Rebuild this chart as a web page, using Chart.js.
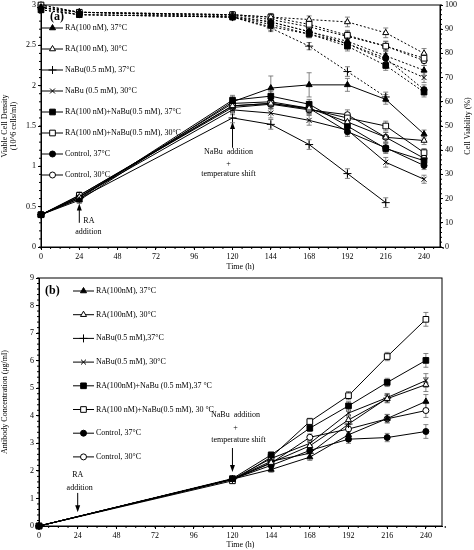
<!DOCTYPE html>
<html>
<head>
<meta charset="utf-8">
<script src="https://cdn.jsdelivr.net/npm/chart.js@4.4.1/dist/chart.umd.min.js"></script>
<style>
html, body { margin: 0; padding: 0; background: #fff; }
canvas { display: block; }
</style>
</head>
<body>
<canvas id="cellChart" width="474" height="272"></canvas>
<canvas id="abChart" width="474" height="278"></canvas>
<script>
'use strict';

// sampling times (h)
var timeA = [0, 24, 120, 144, 168, 192, 216, 240];
var timeB = [0, 120, 144, 168, 192, 216, 240];
var timeTicks = [0, 24, 48, 72, 96, 120, 144, 168, 192, 216, 240];

var labelsA = ['RA(100 nM), 37\u00b0C', 'RA(100 nM), 30\u00b0C', 'NaBu(0.5 mM), 37\u00b0C', 'NaBu (0.5 mM), 30\u00b0C',
    'RA(100 nM)+NaBu(0.5 mM), 37\u00b0C', 'RA(100 nM)+NaBu(0.5 mM), 30\u00b0C', 'Control, 37\u00b0C', 'Control, 30\u00b0C'];
var labelsB = ['RA(100nM), 37\u00b0C', 'RA(100nM), 30\u00b0C', 'NaBu(0.5 mM),37\u00b0C', 'NaBu(0.5 mM), 30\u00b0C',
    'RA(100nM)+NaBu (0.5 mM),37 \u00b0C', 'RA(100 nM)+NaBu(0.5 mM), 30 \u00b0C', 'Control, 37\u00b0C', 'Control, 30\u00b0C'];

// viable cell density (10^6 cells/ml)
var vcdRA37 = [0.4, 0.58, 1.80, 1.97, 2.01, 2.01, 1.83, 1.40];
var vcdRA30 = [0.4, 0.62, 1.75, 1.78, 1.72, 1.55, 1.36, 1.32];
var vcdNaBu37 = [0.4, 0.60, 1.60, 1.52, 1.27, 0.91, 0.55, null];
var vcdNaBu30 = [0.4, 0.62, 1.70, 1.66, 1.57, 1.45, 1.05, 0.84];
var vcdMix37 = [0.4, 0.60, 1.82, 1.87, 1.77, 1.50, 1.22, 1.07];
var vcdMix30 = [0.4, 0.64, 1.75, 1.78, 1.71, 1.60, 1.50, 1.17];
var vcdCtl37 = [0.4, 0.62, 1.78, 1.80, 1.72, 1.43, 1.23, 1.01];
var vcdCtl30 = [0.4, 0.64, 1.73, 1.77, 1.70, 1.64, 1.36, 1.10];
var vcdErr = [0.01, 0.04, 0.06, 0.06, 0.06, 0.06, 0.06, 0.05];
var vcdErrRA37 = [0.01, 0.04, 0.06, 0.15, 0.15, 0.08, 0.06, 0.05];

// cell viability (%)
var viaRA37 = [99, 97, 95.5, 93, 89, 85, 79, 73];
var viaRA30 = [99, 97, 96, 95, 94, 93, 88.5, 80];
var viaNaBu37 = [99, 97, 95, 90.5, 83, 72.5, 62, null];
var viaNaBu30 = [98, 96, 95, 91, 88, 84, 77, 70];
var viaMix37 = [98, 96, 95, 92, 88, 83, 75, 64];
var viaMix30 = [100, 97, 96, 95, 92, 87.5, 83, 78];
var viaCtl37 = [99, 96, 95, 93, 89, 84, 78, 65];
var viaCtl30 = [100, 97, 96, 94, 91, 87, 83, 77];
var viaErr = [1, 1, 1, 1.5, 1.5, 2, 2, 2];

// antibody concentration (ug/ml)
var abRA37 = [0, 1.70, 2.05, 2.50, 3.31, 3.90, 4.52];
var abRA30 = [0, 1.68, 2.30, 2.91, 3.85, 4.62, 5.13];
var abNaBu37 = [0, 1.70, 2.35, 2.64, 3.70, 4.64, null];
var abNaBu30 = [0, 1.70, 2.45, 3.00, 4.10, 4.66, 5.28];
var abMix37 = [0, 1.72, 2.58, 3.55, 4.36, 5.21, 6.01];
var abMix30 = [0, 1.64, 2.50, 3.79, 4.73, 6.15, 7.50];
var abCtl37 = [0, 1.70, 2.20, 2.74, 3.15, 3.21, 3.43];
var abCtl30 = [0, 1.70, 2.28, 3.22, 3.52, 3.89, 4.19];
var abErr = [0, 0.05, 0.1, 0.12, 0.15, 0.15, 0.25];

var serif = 'Liberation Serif, "Times New Roman", serif';
var marks = [
    { style: 'triangle', fill: '#000', r: 3.5 },
    { style: 'triangle', fill: '#fff', r: 3.5 },
    { style: 'cross', fill: '#000', r: 4 },
    { style: 'crossRot', fill: '#000', r: 3.5 },
    { style: 'rect', fill: '#000', r: 4 },
    { style: 'rect', fill: '#fff', r: 4 },
    { style: 'circle', fill: '#000', r: 3 },
    { style: 'circle', fill: '#fff', r: 3 }
];

function series(label, times, vals, errs, k, axis, dashed) {
    return {
        label: label,
        data: times.map(function (t, i) { return { x: t, y: vals[i] }; }),
        errors: errs,
        yAxisID: axis,
        borderColor: '#000',
        borderWidth: 1,
        borderDash: dashed ? [2, 2] : [],
        pointStyle: marks[k].style,
        pointRadius: marks[k].r,
        pointBackgroundColor: marks[k].fill,
        pointBorderColor: '#000',
        pointBorderWidth: 1,
        tension: 0,
        clip: false
    };
}

var errorBars = {
    id: 'errorBars',
    beforeDatasetsDraw: function (chart) {
        var ctx = chart.ctx;
        ctx.save();
        ctx.strokeStyle = '#666';
        ctx.lineWidth = 0.8;
        chart.data.datasets.forEach(function (ds, di) {
            if (!ds.errors) return;
            var meta = chart.getDatasetMeta(di);
            var ys = chart.scales[meta.yAxisID];
            ds.data.forEach(function (p, i) {
                var e = ds.errors[i];
                if (p.y == null || !e) return;
                var px = meta.data[i].x;
                var top = ys.getPixelForValue(p.y + e), bot = ys.getPixelForValue(p.y - e);
                ctx.beginPath();
                ctx.moveTo(px, top); ctx.lineTo(px, bot);
                ctx.moveTo(px - 2.5, top); ctx.lineTo(px + 2.5, top);
                ctx.moveTo(px - 2.5, bot); ctx.lineTo(px + 2.5, bot);
                ctx.stroke();
            });
        });
        ctx.restore();
    }
};

var frameAndTicks = {
    id: 'frameAndTicks',
    afterDraw: function (chart, args, opts) {
        var ctx = chart.ctx, a = chart.chartArea;
        ctx.save();
        ctx.strokeStyle = '#000';
        ctx.lineWidth = 1;
        ctx.strokeRect(a.left, a.top, a.right - a.left, a.bottom - a.top);
        Object.keys(opts.steps).forEach(function (id) {
            var s = chart.scales[id], step = opts.steps[id];
            var n = Math.round((s.max - s.min) / step);
            ctx.beginPath();
            for (var k = 0; k <= n; k++) {
                var p = s.getPixelForValue(s.min + k * step);
                if (s.isHorizontal()) { ctx.moveTo(p, a.bottom); ctx.lineTo(p, a.bottom + 2); }
                else if (s.position === 'left') { ctx.moveTo(a.left, p); ctx.lineTo(a.left - 2, p); }
                else { ctx.moveTo(a.right, p); ctx.lineTo(a.right + 2, p); }
            }
            ctx.stroke();
        });
        if (opts.rightTitle) {
            ctx.fillStyle = '#000';
            ctx.font = '8px ' + serif;
            ctx.textAlign = 'center';
            ctx.textBaseline = 'middle';
            ctx.translate(opts.rightTitle.x, (a.top + a.bottom) / 2);
            ctx.rotate(-Math.PI / 2);
            ctx.fillText(opts.rightTitle.text, 0, 0);
        }
        ctx.restore();
    }
};

var legendBox = {
    id: 'legendBox',
    afterDraw: function (chart, args, opts) {
        var ctx = chart.ctx, a = chart.chartArea;
        ctx.save();
        ctx.font = 'bold 12px ' + serif;
        ctx.fillStyle = '#000';
        ctx.textBaseline = 'middle';
        ctx.textAlign = 'left';
        ctx.fillText(opts.tag, a.left + opts.tagDx, opts.tagY);
        ctx.font = '8px ' + serif;
        opts.labels.forEach(function (text, i) {
            var ds = chart.data.datasets[i];
            var y = opts.y0 + i * opts.step;
            var x0 = a.left + opts.dx;
            ctx.strokeStyle = '#000';
            ctx.lineWidth = 1;
            ctx.beginPath();
            ctx.moveTo(x0, y); ctx.lineTo(x0 + opts.len, y);
            ctx.stroke();
            ctx.fillStyle = ds.pointBackgroundColor;
            Chart.helpers.drawPoint(ctx, { pointStyle: ds.pointStyle, radius: ds.pointRadius, borderWidth: 1, rotation: 0 },
                x0 + opts.len / 2, y);
            ctx.fillStyle = '#000';
            ctx.fillText(text, x0 + opts.len + 2, y);
        });
        ctx.restore();
    }
};

var notes = {
    id: 'notes',
    afterDatasetsDraw: function (chart, args, opts) {
        var ctx = chart.ctx, xs = chart.scales.x, ys = chart.scales.y;
        ctx.save();
        ctx.fillStyle = '#000';
        ctx.strokeStyle = '#000';
        ctx.lineWidth = 1;
        ctx.font = '8px ' + serif;
        ctx.textBaseline = 'middle';
        opts.texts.forEach(function (t) {
            ctx.textAlign = t.align || 'center';
            ctx.fillText(t.text, xs.getPixelForValue(t.x) + (t.dx || 0), ys.getPixelForValue(t.y));
        });
        opts.arrows.forEach(function (ar) {
            var px = xs.getPixelForValue(ar.x);
            var p1 = ys.getPixelForValue(ar.from), p2 = ys.getPixelForValue(ar.to);
            var dir = p2 < p1 ? 1 : -1;
            ctx.beginPath();
            ctx.moveTo(px, p1); ctx.lineTo(px, p2 + dir * 6);
            ctx.stroke();
            ctx.beginPath();
            ctx.moveTo(px, p2);
            ctx.lineTo(px - 2.5, p2 + dir * 7);
            ctx.lineTo(px + 2.5, p2 + dir * 7);
            ctx.closePath();
            ctx.fill();
        });
        ctx.restore();
    }
};

function timeAxis(height) {
    return {
        type: 'linear', min: 0, max: 250,
        afterBuildTicks: function (s) { s.ticks = timeTicks.map(function (v) { return { value: v }; }); },
        afterFit: function (s) { s.height = height; },
        ticks: { font: { family: serif, size: 8 }, color: '#000', padding: 2, maxRotation: 0 },
        grid: { drawOnChartArea: false, color: '#000', tickLength: 3 },
        border: { color: '#000' },
        title: { display: true, text: 'Time (h)', font: { family: serif, size: 8 }, color: '#000', padding: 0 }
    };
}

function valueAxis(pos, min, max, step, width, title) {
    return {
        type: 'linear', position: pos, min: min, max: max,
        afterFit: function (s) { s.width = width; },
        ticks: {
            stepSize: step, color: '#000', padding: 2,
            font: { family: serif, size: 8, lineHeight: 0.75 },
            callback: function (v) { return String(+v.toFixed(1)); }
        },
        grid: { drawOnChartArea: false, color: '#000', tickLength: 3 },
        border: { color: '#000' },
        title: { display: !!title, text: title, font: { family: serif, size: 8 }, color: '#000', padding: { top: 0, bottom: 1 } }
    };
}

var vcdSets = [vcdRA37, vcdRA30, vcdNaBu37, vcdNaBu30, vcdMix37, vcdMix30, vcdCtl37, vcdCtl30];
var viaSets = [viaRA37, viaRA30, viaNaBu37, viaNaBu30, viaMix37, viaMix30, viaCtl37, viaCtl30];
var abSets = [abRA37, abRA30, abNaBu37, abNaBu30, abMix37, abMix30, abCtl37, abCtl30];

var dsA = vcdSets.map(function (v, k) {
    return series(labelsA[k], timeA, v, k === 0 ? vcdErrRA37 : vcdErr, k, 'y', false);
}).concat(viaSets.map(function (v, k) {
    return series(labelsA[k] + ' viability', timeA, v, viaErr, k, 'y1', true);
}));

new Chart(document.getElementById('cellChart'), {
    type: 'line',
    data: { datasets: dsA },
    options: {
        responsive: false,
        animation: false,
        layout: { padding: { top: 0 } },
        plugins: {
            legend: { display: false },
            tooltip: { enabled: false },
            frameAndTicks: { steps: { x: 6, y: 0.1, y1: 2 }, rightTitle: { text: 'Cell Viability (%)', x: 468 } },
            legendBox: { tag: '(a)', tagDx: 9, tagY: 17, labels: labelsA, y0: 28, step: 21, dx: 1, len: 21 },
            notes: {
                texts: [
                    { text: 'RA', x: 24, y: 0.32, dx: 4, align: 'left' },
                    { text: 'addition', x: 24, y: 0.19, dx: 9 },
                    { text: 'NaBu  addition', x: 120, y: 1.18, dx: -4 },
                    { text: '+', x: 120, y: 1.03, dx: -4 },
                    { text: 'temperature shift', x: 120, y: 0.9, dx: -4 }
                ],
                arrows: [{ x: 24, from: 0.3, to: 0.54 }, { x: 120, from: 1.23, to: 1.55 }]
            }
        },
        scales: {
            x: timeAxis(25),
            y: valueAxis('left', 0, 3, 0.5, 41, ['Viable Cell Density', '(10^6 cells/ml)']),
            y1: valueAxis('right', 0, 100, 10, 34, '')
        }
    },
    plugins: [errorBars, frameAndTicks, legendBox, notes]
});

var dsB = abSets.map(function (v, k) {
    return series(labelsB[k], timeB, v, abErr, k, 'y', false);
});

new Chart(document.getElementById('abChart'), {
    type: 'line',
    data: { datasets: dsB },
    options: {
        responsive: false,
        animation: false,
        layout: { padding: { top: 6, right: 32 } },
        plugins: {
            legend: { display: false },
            tooltip: { enabled: false },
            frameAndTicks: { steps: { x: 6, y: 0.2 } },
            legendBox: { tag: '(b)', tagDx: 6, tagY: 19, labels: labelsB, y0: 19, step: 23.7, dx: 34, len: 21 },
            notes: {
                texts: [
                    { text: 'RA', x: 24, y: 1.85 },
                    { text: 'addition', x: 24, y: 1.38, dx: 2 },
                    { text: 'NaBu  addition', x: 120, y: 4.03, dx: 3 },
                    { text: '+', x: 120, y: 3.56, dx: 3 },
                    { text: 'temperature shift', x: 120, y: 3.12, dx: 6 }
                ],
                arrows: [{ x: 24, from: 1.2, to: 0.5 }, { x: 120, from: 2.83, to: 1.96 }]
            }
        },
        scales: {
            x: timeAxis(24),
            y: valueAxis('left', 0, 9, 1, 39, 'Antibody Concentration (\u03bcg/ml)')
        }
    },
    plugins: [errorBars, frameAndTicks, legendBox, notes]
});
</script>
</body>
</html>
